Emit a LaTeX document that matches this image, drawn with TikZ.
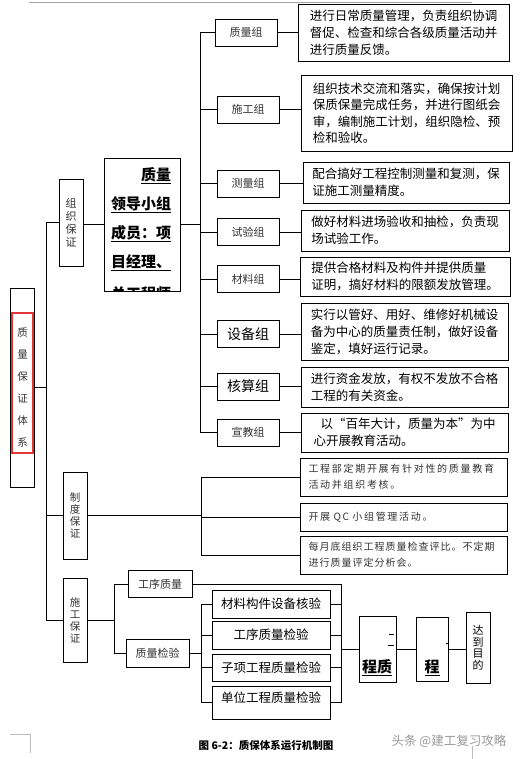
\documentclass[tikz,border=0pt]{standalone}
\usepackage{fontspec}
\setmainfont{Noto Sans CJK SC}
\newfontfamily\largo{Noto Sans CJK SC}[LetterSpace=17]
\newfontfamily\largoless{Noto Sans CJK SC}[LetterSpace=10]
\definecolor{markRed}{HTML}{E3343A}
\definecolor{thinText}{HTML}{333333}
\definecolor{ruleGray}{HTML}{A0A0A0}

\begin{document}
\begin{tikzpicture}[x=1pt, y=-1pt, line width=0.9pt, every node/.style={font=\fontsize{11}{13}\selectfont}]
	\tikzset{
		pillar/.style={draw, minimum width=24pt, inner sep=0pt, align=center, text=thinText},
		group/.style={draw, minimum width=62pt, minimum height=27pt, inner sep=0pt, text=thinText},
		groupbig/.style={group, text=black, font=\fontsize{14}{16}\selectfont},
		desc/.style={draw, inner sep=0pt, align=left, font=\fontsize{12.5}{17}\selectfont},
		rulebox/.style={draw, minimum width=207pt, inner sep=0pt, text width=190pt, align=left, text=thinText, font=\largo\fontsize{10}{16}\selectfont},
		procbox/.style={draw, minimum width=64pt, minimum height=27pt, inner sep=0pt, text=thinText},
		checkbox/.style={draw, minimum width=118pt, inner sep=0pt, font=\fontsize{12.5}{15}\selectfont},
		resultbox/.style={draw, inner sep=0pt},
		resulttext/.style={inner sep=0pt, font=\fontsize{15}{17}\selectfont\bfseries}
	}
	\fill[white] (0,0) rectangle (523,759);
	\useasboundingbox (0,0) rectangle (523,759);
	\node[pillar, minimum height=199pt, font=\fontsize{10.5}{22}\selectfont] (sys) at (22.5,387.5) {质\\量\\保\\证\\体\\系};
	\node[draw=markRed, line width=2.2pt, minimum width=21pt, minimum height=140pt, inner sep=0pt] (sysmark) at (22.5,383) {};
	\node[pillar, minimum height=87pt, font=\fontsize{11}{13}\selectfont] (org) at (71,222.5) {组\\织\\保\\证};
	\node[draw, minimum width=76pt, minimum height=133pt, inner sep=0pt] (lead) at (142,224.5) {};
	\begin{scope}
		\clip (lead.north west) rectangle (lead.south east);
		\node[anchor=north, inner sep=0pt, text width=60pt, align=right, font=\fontsize{15}{29}\selectfont\bfseries] (leadtext) at (141,167) {\underline{质量}\\\underline{领导小组}\\\underline{成员：项}\\\underline{目经理、}\\[3pt]\underline{总工程师}};
	\end{scope}
	\node[group] (g1) at (246,32.5) {质量组};
	\node[group] (g2) at (248,109.5) {施工组};
	\node[group] (g3) at (248,183.5) {测量组};
	\node[group] (g4) at (248,232) {试验组};
	\node[group] (g5) at (248,279) {材料组};
	\node[groupbig] (g6) at (248,334) {设备组};
	\node[groupbig] (g7) at (248,386.5) {核算组};
	\node[group] (g8) at (248,432.5) {宣教组};
	\node[desc, minimum width=211pt, minimum height=57pt] (d1) at (403.5,32.5) {进行日常质量管理，负责组织协调\\督促、检查和综合各级质量活动并\\进行质量反馈。};
	\node[desc, minimum width=211pt, minimum height=76pt, font=\fontsize{12.5}{16.5}\selectfont] (d2) at (406.5,113) {组织技术交流和落实，确保按计划\\保质保量完成任务，并进行图纸会\\审，编制施工计划，组织隐检、预\\检和验收。};
	\node[desc, minimum width=206pt, minimum height=41pt] (d3) at (406,182.5) {配合搞好工程控制测量和复测，保\\证施工测量精度。};
	\node[desc, minimum width=208pt, minimum height=41pt] (d4) at (405,230.5) {做好材料进场验收和抽检，负责现\\场试验工作。};
	\node[desc, minimum width=210pt, minimum height=39pt] (d5) at (405,276.5) {提供合格材料及构件并提供质量\\证明，搞好材料的限额发放管理。};
	\node[desc, minimum width=207pt, minimum height=57pt] (d6) at (404.5,331.5) {实行以管好、用好、维修好机械设\\备为中心的质量责任制，做好设备\\鉴定，填好运行记录。};
	\node[desc, minimum width=207pt, minimum height=40pt] (d7) at (404.5,387) {进行资金发放，有权不发放不合格\\工程的有关资金。};
	\node[desc, minimum width=207pt, minimum height=39pt] (d8) at (404.5,432.5) {\hspace{7pt}以“百年大计，质量为本”为中\\心开展教育活动。};
	\node[pillar, minimum height=87pt, font=\fontsize{10.5}{12}\selectfont] (sz) at (75,515.5) {制\\度\\保\\证};
	\node[rulebox, minimum height=38pt] (e1) at (403.5,477) {工程部定期开展有针对性的质量教育\\活动并组织考核。};
	\node[rulebox, minimum height=28pt] (e2) at (403.5,517) {开展 QC 小组管理活动。};
	\node[rulebox, minimum height=38pt, font=\largoless\fontsize{10}{16}\selectfont] (e3) at (403.5,555) {每月底组织工程质量检查评比。不定期\\进行质量评定分析会。};
	\node[pillar, minimum height=84pt, font=\fontsize{10.5}{12}\selectfont] (sg) at (75,620) {施\\工\\保\\证};
	\node[procbox] (p1) at (160,584) {工序质量};
	\node[procbox, minimum width=63pt, minimum height=28pt] (p2) at (157.5,653) {质量检验};
	\node[checkbox, minimum height=28pt] (k1) at (271,604) {材料构件设备核验};
	\node[checkbox, minimum height=28pt] (k2) at (271,635) {工序质量检验};
	\node[checkbox, minimum height=27pt] (k3) at (271,667.5) {子项工程质量检验};
	\node[checkbox, minimum height=33pt, text depth=10pt] (k4) at (271,702.5) {单位工程质量检验};
	\node[resultbox, minimum width=37pt, minimum height=66pt] (q1) at (377.5,649) {};
	\node[resulttext] (q1text) at (377,668) {\underline{程质}};
	\node[resultbox, minimum width=32pt, minimum height=64pt] (q2) at (432,649) {};
	\node[resulttext] (q2text) at (432,668) {\underline{程}};
	\node[pillar, minimum height=71pt, text=black, font=\fontsize{11}{11.5}\selectfont] (q3) at (478,647.5) {达\\到\\目\\的};
	\node[font=\fontsize{10.5}{12}\selectfont\bfseries] (caption) at (266,746) {图 6-2：质保体系运行机制图};
	\node[text=gray!80, font=\fontsize{12.5}{14}\selectfont] (credit) at (449,741) {头条 @建工复习攻略};
	\coordinate (trunk) at (46,0);
	\coordinate (busorg) at (200,0);
	\coordinate (busrule) at (201,0);
	\coordinate (busproc) at (114,0);
	\coordinate (buscheck) at (201,0);
	\coordinate (busout) at (341,0);
	\draw (sys.east) -- (sys.east -| trunk);
	\draw (trunk |- org.west) -- (trunk |- sg.west);
	\draw (trunk |- org.west) -- (org.west);
	\draw (trunk |- sz.west) -- (sz.west);
	\draw (trunk |- sg.west) -- (sg.west);
	\draw (lead.west -| org.east) -- (lead.west);
	\draw (lead.east) -- (lead.east -| busorg);
	\draw (busorg |- g1.west) -- (busorg |- g8.west);
	\draw (busorg |- g1.west) -- (g1.west);
	\draw (busorg |- g2.west) -- (g2.west);
	\draw (busorg |- g3.west) -- (g3.west);
	\draw (busorg |- g4.west) -- (g4.west);
	\draw (busorg |- g5.west) -- (g5.west);
	\draw (busorg |- g6.west) -- (g6.west);
	\draw (busorg |- g7.west) -- (g7.west);
	\draw (busorg |- g8.west) -- (g8.west);
	\draw (g1.east) -- (g1.east -| d1.west);
	\draw (g2.east) -- (g2.east -| d2.west);
	\draw (g3.east) -- (g3.east -| d3.west);
	\draw (g4.east) -- (g4.east -| d4.west);
	\draw (g5.east) -- (g5.east -| d5.west);
	\draw (g6.east) -- (g6.east -| d6.west);
	\draw (g7.east) -- (g7.east -| d7.west);
	\draw (g8.east) -- (g8.east -| d8.west);
	\draw (sz.east) -- (sz.east -| busrule);
	\draw (busrule |- e1.west) -- (busrule |- e3.west);
	\draw (busrule |- e1.west) -- (e1.west);
	\draw (busrule |- e2.west) -- (e2.west);
	\draw (busrule |- e3.west) -- (e3.west);
	\draw (sg.east) -- (sg.east -| busproc);
	\draw (busproc |- p1.west) -- (busproc |- p2.west);
	\draw (busproc |- p1.west) -- (p1.west);
	\draw (busproc |- p2.west) -- (p2.west);
	\draw (p2.east) -- (p2.east -| buscheck);
	\draw (buscheck |- k1.west) -- (buscheck |- k4.west);
	\draw (buscheck |- k1.west) -- (k1.west);
	\draw (buscheck |- k2.west) -- (k2.west);
	\draw (buscheck |- k3.west) -- (k3.west);
	\draw (buscheck |- k4.west) -- (k4.west);
	\draw (p1.east) -- (p1.east -| busout);
	\draw (busout |- p1.east) -- (busout |- k4.east);
	\draw (k1.east) -- (k1.east -| busout);
	\draw (k2.east) -- (k2.east -| busout);
	\draw (k3.east) -- (k3.east -| busout);
	\draw (k4.east) -- (k4.east -| busout);
	\draw (busout |- q1.west) -- (q1.west);
	\draw (q1.east) -- (q2.west);
	\draw (q2.east) -- (q2.east -| q3.west);
	\draw[line width=0.7pt] (389,634) -- (394,634) (388,645) -- (394,645) (446,643) -- (447.5,643);
	\draw[ruleGray, line width=1pt] (29,3) -- (472,3);
	\draw[ruleGray!70, line width=0.8pt] (10,734) -- (30,734) -- (30,753);
	\draw[ruleGray!70, line width=0.8pt] (472,746) -- (472,759);
\end{tikzpicture}
\end{document}
